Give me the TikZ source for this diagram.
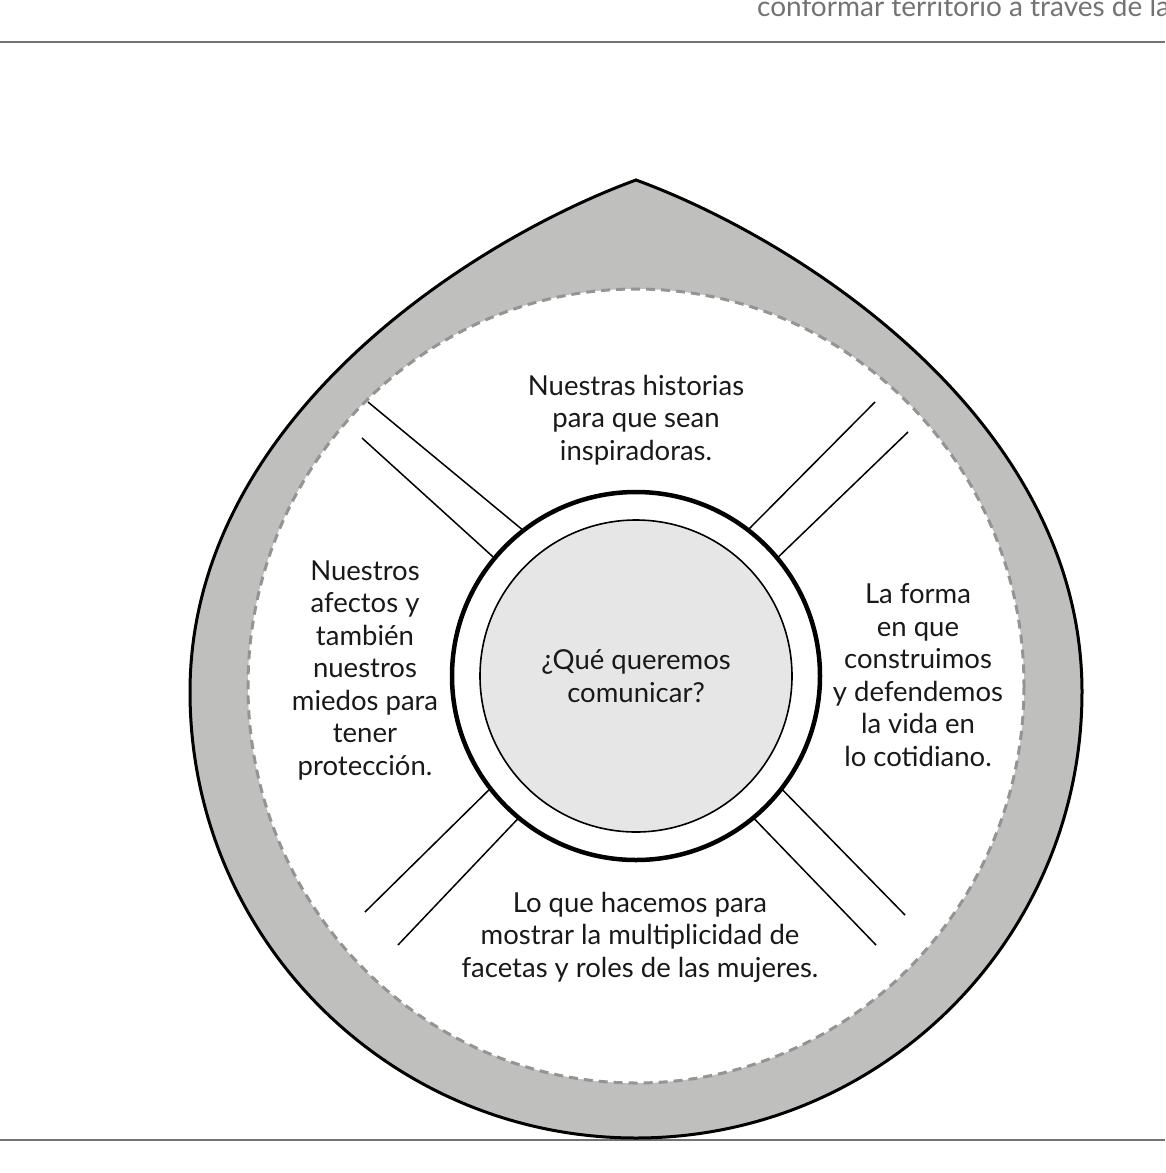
\documentclass[tikz,border=0pt]{standalone}
\usepackage{fontspec}
\setmainfont{Lato}
\begin{document}
\begin{tikzpicture}[x=1pt,y=-1pt,
  lbl/.style={align=center,font=\fontsize{27.5}{32.5}\selectfont,text=black!90},
  band/.style={line width=1.5pt}]
\definecolor{shell}{HTML}{BFBFBD}
\definecolor{core}{HTML}{E6E6E6}
\begin{scope}
\clip (0,0) rectangle (1165,1173);
\node[anchor=base west,font=\fontsize{28}{30}\selectfont,text=black!55,inner sep=0] (hdr) at (757,16) {conformar territorio a través de la};
\end{scope}
\useasboundingbox (0,0) rectangle (1165,1173);
\draw[black!55,line width=2pt] (0,42) -- (1165,42);
\draw[black!55,line width=1.6pt] (0,1140) -- (1165,1140);
% outer drop shape
\coordinate (apex) at (636,180);
\draw[fill=shell,line width=3pt,line join=miter]
  (apex) .. controls (800,240) and (1082,420) .. (1082,692)
  arc[start angle=0,end angle=180,radius=446]
  .. controls (190,420) and (472,240) .. (apex) -- cycle;
% dashed inner area
\draw[fill=white,draw=black!42,line width=3pt,dash pattern=on 9pt off 6pt] (636,686) circle[x radius=388,y radius=397];
% bands
\draw[band] (368,402) -- (530,536);
\draw[band] (362,438) -- (502,565);
\draw[band] (875,402) -- (742,536);
\draw[band] (908,432) -- (770,565);
\draw[band] (365,912) -- (502,777);
\draw[band] (398,945) -- (530,806);
\draw[band] (905,915) -- (770,777);
\draw[band] (876,945) -- (742,806);
% center
\node[circle,draw,line width=4.5pt,fill=white,minimum size=368pt,inner sep=0] (ring) at (636,676) {};
\node[circle,draw,line width=1.6pt,fill=core,minimum size=312pt,inner sep=0,lbl] (qq) at (636,676) {¿Qué queremos\\comunicar?};
% labels
\node[lbl] (top) at (636,420) {Nuestras historias\\para que sean\\inspiradoras.};
\node[lbl] (left) at (365,670) {Nuestros\\afectos y\\también\\nuestros\\miedos para\\tener\\protección.};
\node[lbl] (right) at (918,675) {La forma\\en que\\construimos\\y defendemos\\la vida en\\lo cotidiano.};
\node[lbl] (bottom) at (640,937) {Lo que hacemos para\\mostrar la multiplicidad de\\facetas y roles de las mujeres.};
\end{tikzpicture}
\end{document}
